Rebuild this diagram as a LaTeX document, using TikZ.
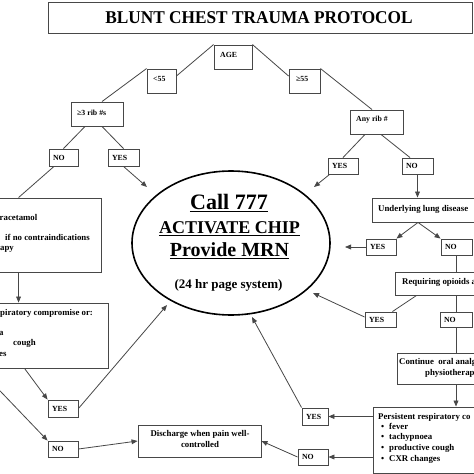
\documentclass[tikz,border=0pt]{standalone}
\usepackage{fontspec}
\setmainfont{Liberation Serif}
\usetikzlibrary{arrows.meta,calc,shapes.geometric}
\begin{document}
\begin{tikzpicture}[x=1pt,y=-1pt,
  bx/.style={draw=black!72, line width=0.9pt, inner sep=0pt, fill=white},
  lab/.style={bx, font=\bfseries\fontsize{7.8}{9}\selectfont, text=black, inner xsep=4pt, align=left},
  tx/.style={font=\bfseries\fontsize{8.8}{10}\selectfont, text=black, inner sep=0pt, anchor=base west},
  sm/.style={font=\bfseries\fontsize{7.8}{9}\selectfont, text=black, inner sep=0pt, anchor=base west},
  big/.style={inner sep=0pt, anchor=base, text=black},
  ul/.style={draw=black, line width=1.2pt},
  con/.style={draw=black!72, line width=0.8pt},
  arr/.style={con, -{Triangle[length=6pt,width=4.8pt]}},
]
\useasboundingbox (0,0) rectangle (474,474);
\fill[white] (0,0) rectangle (474,474);
\clip (0,0) rectangle (474,474);

% title
\node[bx, minimum width=424pt, minimum height=31pt] (title) at (260,17.5) {};
\node[big, font=\bfseries\fontsize{18}{20}\selectfont] (titleT) at (259,23) {\scalebox{0.96}[1]{BLUNT CHEST TRAUMA PROTOCOL}};

% top decision boxes
\node[bx, minimum width=38pt, minimum height=24pt] (age) at (233,57) {};
\node[sm] (ageT) at (220,57) {AGE};
\node[bx, minimum width=29pt, minimum height=24pt] (lt55) at (161.5,81) {};
\node[sm] (lt55T) at (153,81.5) {<55};
\node[bx, minimum width=31pt, minimum height=24pt] (ge55) at (304.5,81) {};
\node[sm] (ge55T) at (296,81.5) {≥55};
\node[bx, minimum width=52pt, minimum height=24pt] (rib3) at (97,114) {};
\node[sm] (rib3T) at (77,115) {≥3 rib \#s};
\node[bx, minimum width=53pt, minimum height=24pt] (anyrib) at (376.5,122) {};
\node[sm] (anyribT) at (356,121.5) {Any rib \#};

% small yes / no labels
\node[lab, text width=21pt, minimum height=17pt] (noL1) at (63.5,157.5) {NO};
\node[lab, text width=23pt, minimum height=17pt] (yesL1) at (123.5,157.5) {YES};
\node[lab, text width=22pt, minimum height=17pt] (yesL2) at (63,408.5) {YES};
\node[lab, text width=22pt, minimum height=16pt] (noL2) at (63,449) {NO};
\node[lab, text width=22pt, minimum height=16pt] (yesR1) at (343,166) {YES};
\node[lab, text width=23pt, minimum height=16pt] (noR1) at (417.5,166) {NO};
\node[lab, text width=22pt, minimum height=16pt] (yesR2) at (381,247) {YES};
\node[lab, text width=23pt, minimum height=16pt] (noR2) at (456.5,247) {NO};
\node[lab, text width=23pt, minimum height=15pt] (yesR3) at (380.5,319.5) {YES};
\node[lab, text width=24pt, minimum height=15pt] (noR3) at (456,319.5) {NO};
\node[lab, text width=18pt, minimum height=17pt] (yesR4) at (315,416.5) {YES};
\node[lab, text width=22pt, minimum height=16pt] (noR4) at (313,457) {NO};

% left boxes (cut by the picture edge)
\node[bx, minimum width=161pt, minimum height=74pt] (lb1) at (20.5,235) {};
\node[tx] (lb1a) at (-0.5,220) {racetamol};
\node[tx] (lb1b) at (5,240) {if no contraindications};
\node[tx] (lb1c) at (0,250) {apy};
\node[bx, minimum width=168pt, minimum height=65pt] (lb2) at (24,335.5) {};
\node[tx] (lb2a) at (0,315) {piratory compromise or:};
\node[tx] (lb2b) at (-1,335) {a};
\node[tx] (lb2c) at (13,345) {cough};
\node[tx] (lb2d) at (-1,356) {es};

% discharge
\node[bx, minimum width=123pt, minimum height=32pt] (dis) at (199.5,441) {};
\node[tx, anchor=base] (disa) at (200,436) {Discharge when pain well-};
\node[tx, anchor=base] (disb) at (200,447) {controlled};

% right boxes (cut by the picture edge)
\node[bx, minimum width=106pt, minimum height=24pt] (lung) at (425,210) {};
\node[tx] (lungT) at (378,211) {Underlying lung disease};
\node[bx, minimum width=85pt, minimum height=23pt] (opi) at (437.5,283.5) {};
\node[tx] (opiT) at (402,284) {Requiring opioids a};
\node[bx, minimum width=83pt, minimum height=31pt] (cont) at (438.5,368.5) {};
\node[tx] (contA) at (399,364) {Continue\ \ oral analg};
\node[tx] (contB) at (425,375) {physiotherap};
\node[bx, minimum width=107pt, minimum height=66pt] (pers) at (426.5,440) {};
\node[tx] (persA) at (378,419) {Persistent respiratory co};
\node[tx] (b1) at (381,429) {•};
\node[tx] (p1) at (389,429) {fever};
\node[tx] (b2) at (381,439.5) {•};
\node[tx] (p2) at (389,439.5) {tachypnoea};
\node[tx] (b3) at (381,450) {•};
\node[tx] (p3) at (389,450) {productive cough};
\node[tx] (b4) at (381,461) {•};
\node[tx] (p4) at (389,461) {CXR changes};

% central ellipse
\node[draw=black, line width=1.6pt, ellipse, minimum width=198pt, minimum height=144pt, inner sep=0pt] (ell) at (231,243) {};
\node[big, font=\bfseries\fontsize{22}{25}\selectfont] (e1) at (229,209) {Call 777};
\node[big, font=\bfseries\fontsize{18}{20}\selectfont] (e2) at (229.5,233) {ACTIVATE CHIP};
\node[big, font=\bfseries\fontsize{20}{22}\selectfont] (e3) at (229.5,256) {Provide MRN};
\node[big, font=\bfseries\fontsize{13}{15}\selectfont] (e4) at (228.5,288) {(24 hr page system)};
\draw[ul] ($(e1.base west)+(0,2.5)$) -- ($(e1.base east)+(0,2.5)$);
\draw[ul] ($(e2.base west)+(0,2.5)$) -- ($(e2.base east)+(0,2.5)$);
\draw[ul] ($(e3.base west)+(0,2.5)$) -- ($(e3.base east)+(0,2.5)$);

% free arrow ends near the ellipse
\coordinate (t1) at (147,187);
\coordinate (t2) at (167,305);
\coordinate (t3) at (314,187);
\coordinate (t4) at (345,247);
\coordinate (t5) at (313,293);
\coordinate (t6) at (252,317);

% connectors, top
\draw[con] (age.north west) -- ($(lt55.east)+(0,-5)$);
\draw[con] (age.north east) -- ($(ge55.west)+(0,-5)$);
\draw[con] (lt55.north west) -- ($(rib3.north)+(5,0)$);
\draw[con] (ge55.north east) -- ($(anyrib.north)+(-4.5,0)$);

% left branch
\draw[con] ($(rib3.south)+(-12,0)$) -- (noL1.north);
\draw[con] ($(rib3.south)+(5,0)$) -- (yesL1.north);
\draw[arr] (yesL1.south) -- (t1);
\draw[con] ($(noL1.south)+(-9.5,0)$) -- ($(lb1.north west)+(79,0)$);
\draw[arr] ($(lb1.south west)+(79,0)$) -- ($(lb2.north west)+(79,0)$);
\draw[arr] ($(lb2.south west)+(85,0)$) -- (yesL2.north west);
\draw[arr] ($(lb2.south west)+(39,0)$) -- (noL2.north west);
\draw[arr] (yesL2.east) -- (t2);
\draw[arr] (noL2.east) -- (dis.west);

% right branch
\draw[con] ($(anyrib.south)+(-11.5,0)$) -- (yesR1.north);
\draw[con] ($(anyrib.south)+(4.5,0)$) -- ($(noR1.north)+(-7.5,0)$);
\draw[arr] ($(yesR1.south west)+(2,0)$) -- (t3);
\draw[arr] (noR1.south) -- (noR1.south |- lung.north);
\draw[arr] ($(lung.south)+(-7,0)$) -- (yesR2.north east);
\draw[arr] ($(lung.south)+(-7,0)$) -- (noR2.north west);
\draw[arr] (yesR2.west) -- (t4);
\draw[con] (noR2.south) -- (noR2.south |- opi.north);
\draw[con] ($(opi.south west)+(22,0)$) -- ($(yesR3.north east)+(-4,0)$);
\draw[con] (noR3.north) -- (noR3.north |- opi.south);
\draw[arr] ($(yesR3.west)+(0,-2.5)$) -- (t5);
\draw[con] (noR3.south) -- (noR3.south |- cont.north);
\draw[arr] (noR3.south |- cont.south) -- (noR3.south |- pers.north);
\draw[arr] (yesR4.east -| pers.west) -- (yesR4.east);
\draw[arr] (noR4.east -| pers.west) -- (noR4.east);
\draw[arr] (yesR4.north west) -- (t6);
\draw[arr] (noR4.west) -- (dis.east);
\end{tikzpicture}
\end{document}
